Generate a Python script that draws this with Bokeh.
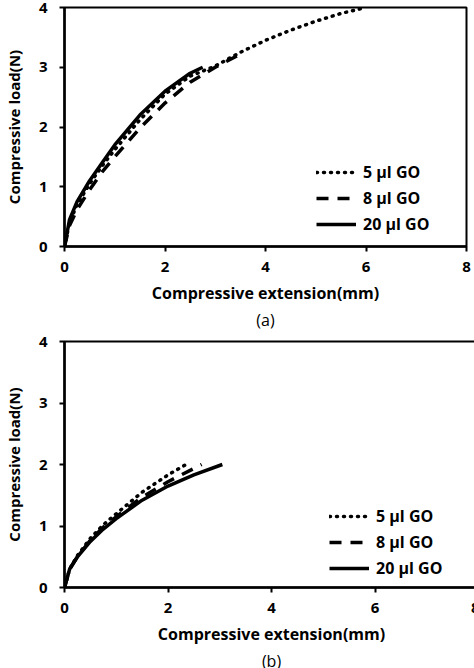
from bokeh.plotting import figure
from bokeh.layouts import column
from bokeh.models import Legend, LegendItem, Title, Range1d, FixedTicker
from bokeh.embed import file_html
from bokeh.resources import INLINE

# ---- data ----
x_ticks = [0, 2, 4, 6, 8]
y_ticks = [0, 1, 2, 3, 4]
labels = ["5 µl GO", "8 µl GO", "20 µl GO"]

a5_x = [0, 0.1, 0.25, 0.5, 0.75, 1.0, 1.5, 2.0, 2.5, 3.0, 3.5, 4.0, 4.5, 5.0, 5.5, 6.0]
a5_y = [0, 0.40, 0.70, 1.05, 1.35, 1.62, 2.12, 2.55, 2.85, 3.02, 3.25, 3.45, 3.62, 3.77, 3.90, 4.0]
a8_x = [0, 0.1, 0.25, 0.5, 0.75, 1.0, 1.5, 2.0, 2.5, 3.0, 3.55]
a8_y = [0, 0.35, 0.62, 0.95, 1.25, 1.50, 1.98, 2.40, 2.75, 3.00, 3.24]
a20_x = [0, 0.1, 0.25, 0.5, 0.75, 1.0, 1.5, 2.0, 2.5, 2.75]
a20_y = [0, 0.45, 0.75, 1.10, 1.40, 1.70, 2.20, 2.60, 2.90, 3.00]

b5_x = [0, 0.1, 0.25, 0.5, 0.75, 1.0, 1.5, 2.0, 2.35]
b5_y = [0, 0.30, 0.52, 0.80, 1.02, 1.20, 1.55, 1.83, 2.00]
b8_x = [0, 0.1, 0.25, 0.5, 0.75, 1.0, 1.5, 2.0, 2.65]
b8_y = [0, 0.30, 0.50, 0.77, 0.98, 1.15, 1.47, 1.72, 2.00]
b20_x = [0, 0.1, 0.25, 0.5, 0.75, 1.0, 1.5, 2.0, 2.5, 3.05]
b20_y = [0, 0.30, 0.50, 0.75, 0.95, 1.12, 1.42, 1.65, 1.83, 2.00]

FONT = "Open Sans"


def make_panel(series, caption, fw, fh, top, bottom, right, left, legend_loc):
    p = figure(frame_width=fw, frame_height=fh, output_backend="svg", toolbar_location=None,
               x_range=Range1d(0, 8), y_range=Range1d(0, 4),
               min_border_top=top, min_border_bottom=bottom,
               min_border_right=right, min_border_left=left)
    p.background_fill_color = "white"
    p.border_fill_color = "white"
    p.xgrid.visible = False
    p.ygrid.visible = False
    p.outline_line_color = "black"
    p.outline_line_width = 2
    for ax in (p.xaxis[0], p.yaxis[0]):
        ax.axis_line_width = 2.5
        ax.axis_line_color = "black"
        ax.major_tick_line_width = 2
        ax.major_tick_line_color = "black"
        ax.major_tick_out = 5
        ax.major_tick_in = 0
        ax.minor_tick_line_color = None
        ax.major_label_text_font = FONT
        ax.major_label_text_font_style = "bold"
        ax.major_label_text_font_size = "15px"
        ax.major_label_text_color = "black"
        ax.axis_label_text_font = FONT
        ax.axis_label_text_font_style = "bold"
        ax.axis_label_text_color = "black"
    p.xaxis.axis_label_text_font_size = "16px"
    p.yaxis.axis_label_text_font_size = "15px"
    p.xaxis.ticker = FixedTicker(ticks=x_ticks)
    p.yaxis.ticker = FixedTicker(ticks=y_ticks)
    p.xaxis.axis_label = "Compressive extension(mm)"
    p.yaxis.axis_label = "Compressive load(N)"
    p.xaxis.major_label_standoff = 10
    p.xaxis.axis_label_standoff = 7
    p.yaxis.major_label_standoff = 12
    p.yaxis.axis_label_standoff = 12

    (x5, y5), (x8, y8), (x20, y20) = series
    r5 = p.line(x5, y5, line_color="black", line_width=3.5, line_dash="1 6", line_cap="round")
    r8 = p.line(x8, y8, line_color="black", line_width=3.5, line_dash="12 9")
    r20 = p.line(x20, y20, line_color="black", line_width=3.5)

    legend = Legend(items=[LegendItem(label=labels[0], renderers=[r5]),
                           LegendItem(label=labels[1], renderers=[r8]),
                           LegendItem(label=labels[2], renderers=[r20])],
                    location=legend_loc)
    legend.border_line_color = None
    legend.background_fill_alpha = 0
    legend.padding = 0
    legend.margin = 0
    legend.spacing = 4
    legend.glyph_width = 40
    legend.glyph_height = 20
    legend.label_height = 20
    legend.label_standoff = 7
    legend.label_text_font = FONT
    legend.label_text_font_style = "bold"
    legend.label_text_font_size = "16px"
    legend.label_text_color = "black"
    p.add_layout(legend, "center")

    t = Title(text=caption, align="center", text_font=FONT, text_font_style="normal",
              text_font_size="16px", text_color="black", standoff=0)
    p.add_layout(t, "below")
    return p


pa = make_panel([(a5_x, a5_y), (a8_x, a8_y), (a20_x, a20_y)], "(a)",
                402, 239, 7, 76, 10, 62, (252, 11))
pb = make_panel([(b5_x, b5_y), (b8_x, b8_y), (b20_x, b20_y)], "(b)",
                414, 246, 11, 76, 1, 59, (265, 8))

layout = column(pa, pb, spacing=0)
open("out.html", "w").write(file_html(layout, INLINE))
